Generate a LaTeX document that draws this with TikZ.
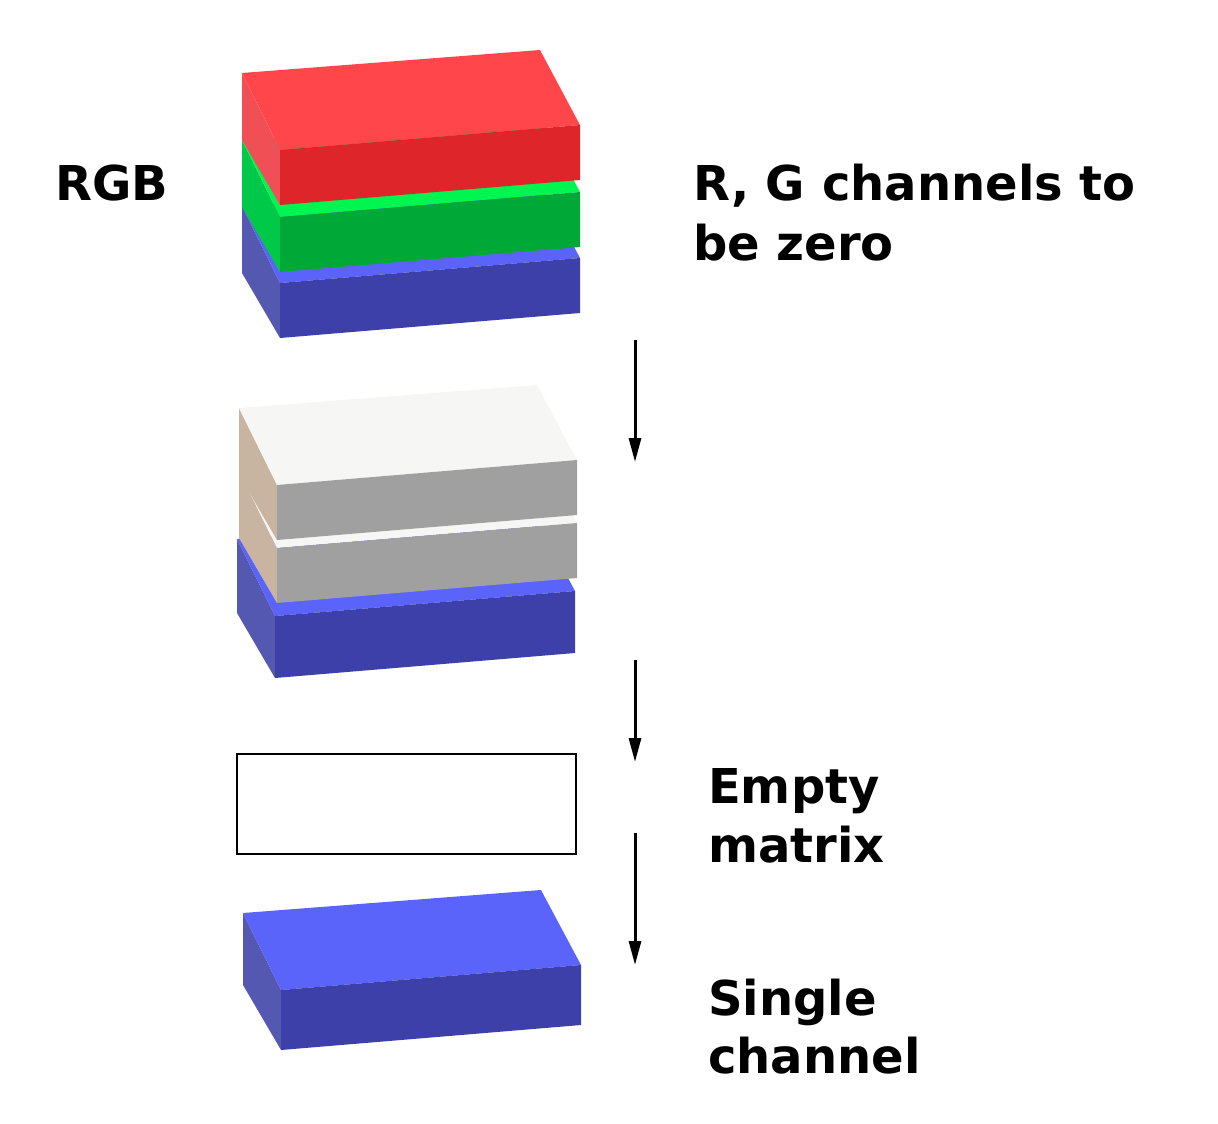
\documentclass[tikz,border=0pt]{standalone}
\usepackage{fontspec}
\setmainfont{DejaVu Sans}
\usetikzlibrary{arrows.meta}
\definecolor{rtop}{HTML}{FF464B}\definecolor{rfr}{HTML}{DE262A}\definecolor{rl}{HTML}{F05055}
\definecolor{gtop}{HTML}{00F550}\definecolor{gfr}{HTML}{00A838}\definecolor{gl}{HTML}{00C848}
\definecolor{btop}{HTML}{5A64FA}\definecolor{bfr}{HTML}{3C40A8}\definecolor{bl}{HTML}{5558B0}
\definecolor{wtop}{HTML}{F6F6F4}\definecolor{wfr}{HTML}{A0A0A0}\definecolor{wl}{HTML}{C8B4A0}
\newcommand{\myslab}[6]{% xshift, t, top, front, left, depth
  \begin{scope}[xshift=#1]
  \fill[#5] (242,#2) -- (280,#2+77) -- (280,#2+77+#6) -- (242,#2+#6+12) -- cycle;
  \fill[#3] (242,#2) -- (540,#2-23) -- (580,#2+52) -- (280,#2+77) -- cycle;
  \fill[#4] (280,#2+77) -- (580,#2+52) -- (580,#2+52+#6) -- (280,#2+77+#6) -- cycle;
  \end{scope}}
\tikzset{lab/.style={anchor=base west,inner sep=0pt,font=\fontsize{48}{58}\selectfont\bfseries},
  arr/.style={line width=3pt,-{Triangle[length=24pt,width=12pt]}}}
\begin{document}
\begin{tikzpicture}[x=1pt,y=-1pt]
\useasboundingbox (0,0) rectangle (1218,1124);
\myslab{0}{206}{btop}{bfr}{bl}{55}
\myslab{0}{140}{gtop}{gfr}{gl}{55}
\myslab{0}{73}{rtop}{rfr}{rl}{55}
\myslab{-5}{539}{btop}{bfr}{bl}{62}
\myslab{-3}{471}{wtop}{wfr}{wl}{55}
\myslab{-3}{408}{wtop}{wfr}{wl}{55}
\node[draw,line width=1.5pt,minimum width=339pt,minimum height=100pt,inner sep=0pt] (em) at (406.5,804) {};
\myslab{1}{913}{btop}{bfr}{bl}{60}
\node[lab] (rgb) at (55,200) {RGB};
\node[lab] (t1) at (693,200) {R, G channels to};
\node[lab] (t2) at (693,260) {be zero};
\node[lab] (t3) at (708,803) {Empty};
\node[lab] (t4) at (708,862) {matrix};
\node[lab] (t5) at (708,1015) {Single};
\node[lab] (t6) at (708,1073) {channel};
\coordinate (a1) at (635,340); \coordinate (b1) at (635,462);
\coordinate (a2) at (635,660); \coordinate (b2) at (635,762);
\coordinate (a3) at (635,833); \coordinate (b3) at (635,965);
\draw[arr] (a1) -- (b1);
\draw[arr] (a2) -- (b2);
\draw[arr] (a3) -- (b3);
\end{tikzpicture}
\end{document}
